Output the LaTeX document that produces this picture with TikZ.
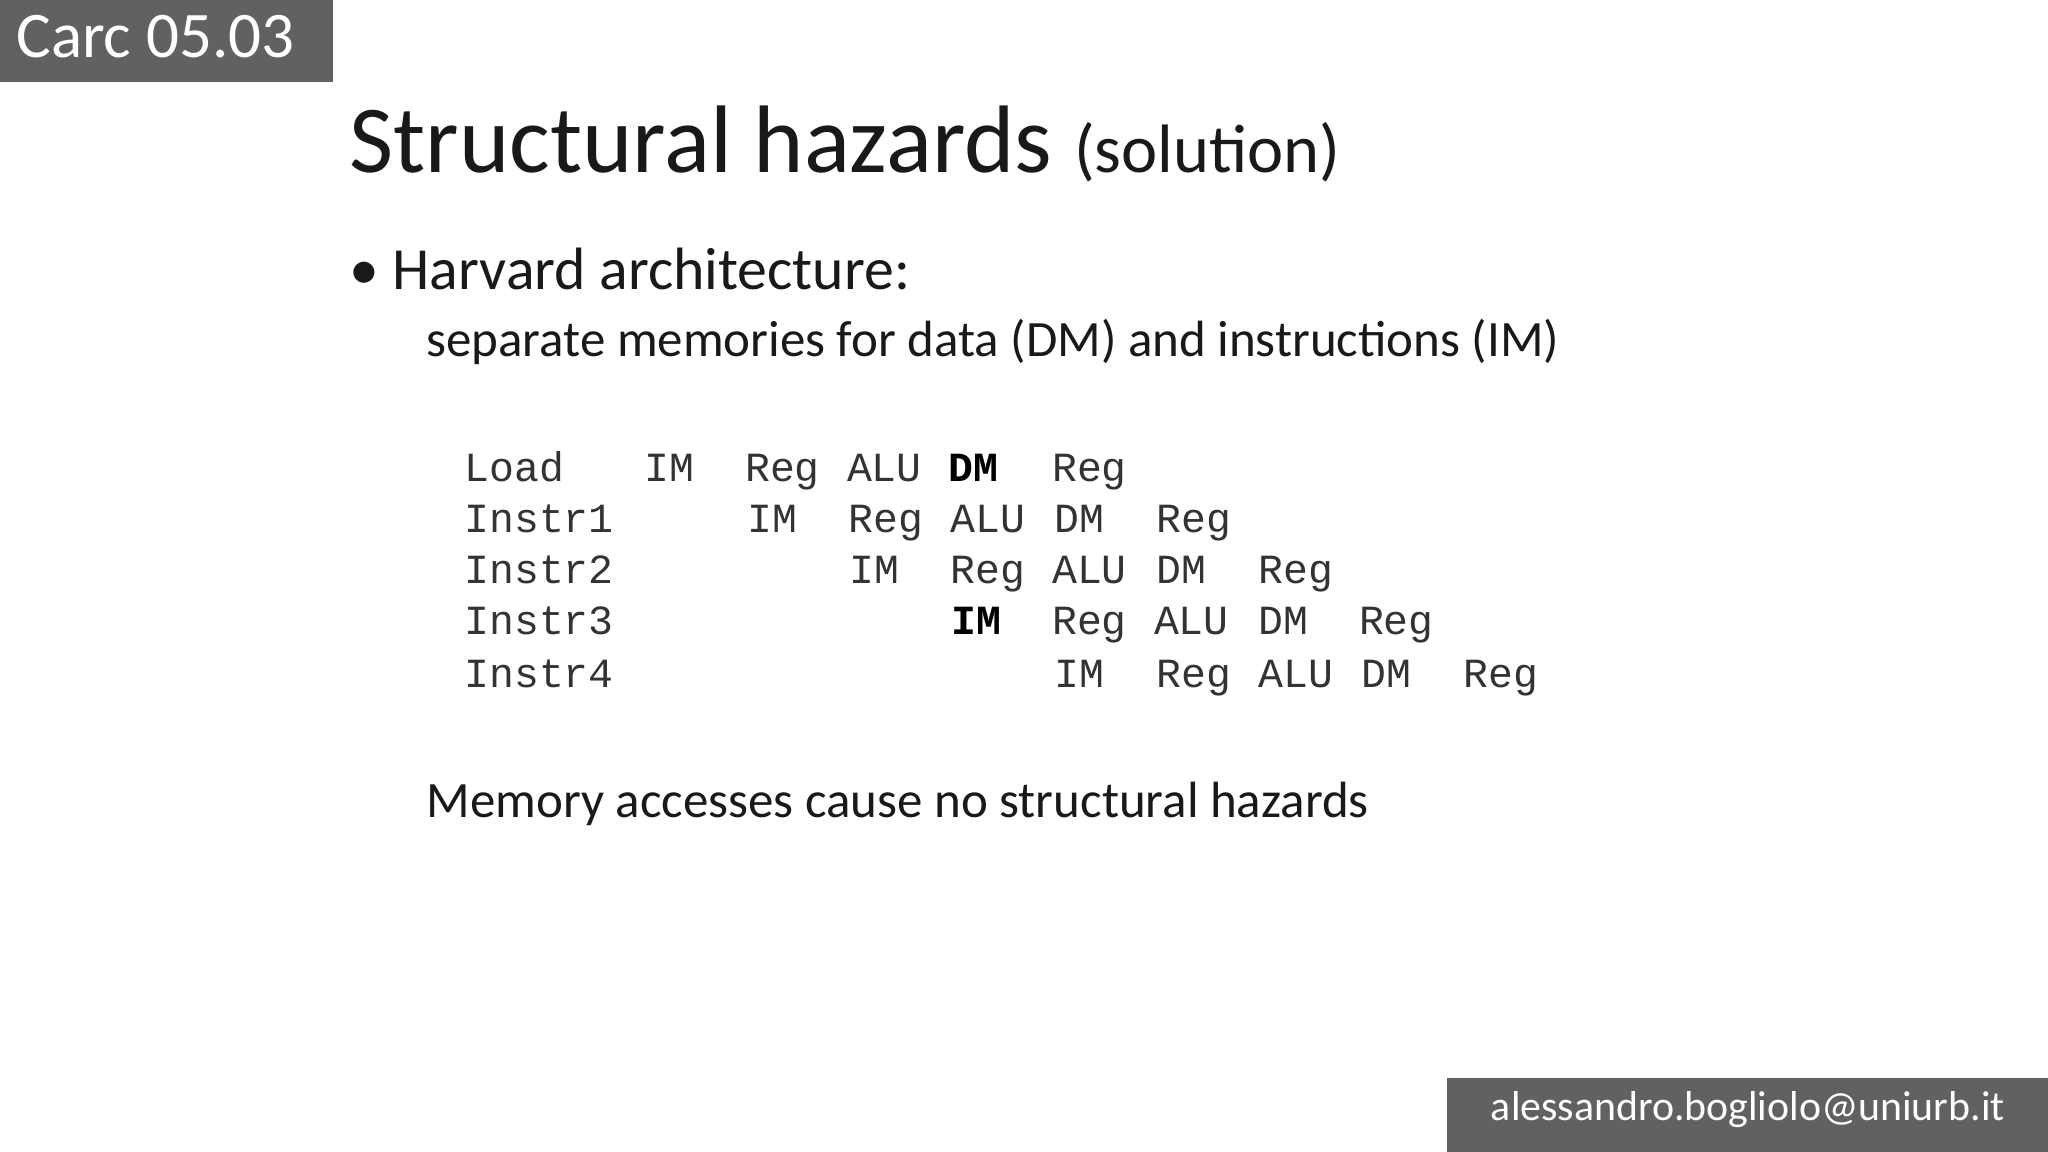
\documentclass[tikz,border=0pt]{standalone}
\usepackage{fontspec}
\setmainfont{Carlito}
\newfontfamily\monof{Liberation Mono}
\begin{document}
\begin{tikzpicture}[x=0.01306cm,y=-0.01306cm,
  t/.style={anchor=base west,inner sep=0pt,text=black!90},
  m/.style={anchor=base west,inner sep=0pt,text=black!80,font=\monof\fontsize{11.8}{12}\selectfont},
  mb/.style={m,font=\monof\bfseries\fontsize{11.8}{12}\selectfont,text=black}]
\useasboundingbox (0,0) rectangle (1568,882);
\fill[white] (0,0) rectangle (1568,882);
\fill[black!62] (0,0) rectangle (255,63);
\node[t,text=white,font=\fontsize{18.5}{19}\selectfont] (carc) at (12,44) {Carc 05.03};
\fill[black!62] (1108,825) rectangle (1568,882);
\node[t,text=white,font=\fontsize{11.9}{12}\selectfont] (mail) at (1141,858) {alessandro.bogliolo@uniurb.it};
\node[t,font=\fontsize{27.3}{28}\selectfont] (title) at (267,132) {Structural hazards {\fontsize{19.5}{21}\selectfont(solution)}};
\node[t,font=\fontsize{17}{18}\selectfont] (b1) at (267,222) {\textbullet\ Harvard architecture:};
\node[t,font=\fontsize{14.5}{15}\selectfont] (b2) at (326,273) {separate memories for data (DM) and instructions (IM)};
% table
\node[m] (r0) at (355,369) {Load};
\node[m] at (493,369) {IM}; \node[m] at (570,369) {Reg}; \node[m] at (648,369) {ALU};
\node[mb] at (726,369) {DM}; \node[m] at (805,369) {Reg};
\node[m] (r1) at (355,408) {Instr1};
\node[m] at (572,408) {IM}; \node[m] at (649,408) {Reg}; \node[m] at (727,408) {ALU};
\node[m] at (807,408) {DM}; \node[m] at (885,408) {Reg};
\node[m] (r2) at (355,447) {Instr2};
\node[m] at (650,447) {IM}; \node[m] at (727,447) {Reg}; \node[m] at (805,447) {ALU};
\node[m] at (885,447) {DM}; \node[m] at (963,447) {Reg};
\node[m] (r3) at (355,486) {Instr3};
\node[mb] at (728,486) {IM}; \node[m] at (805,486) {Reg}; \node[m] at (883,486) {ALU};
\node[m] at (963,486) {DM}; \node[m] at (1040,486) {Reg};
\node[m] (r4) at (355,526) {Instr4};
\node[m] at (807,526) {IM}; \node[m] at (885,526) {Reg}; \node[m] at (963,526) {ALU};
\node[m] at (1042,526) {DM}; \node[m] at (1120,526) {Reg};
\node[t,font=\fontsize{14.5}{15}\selectfont] (mem) at (326,626) {Memory accesses cause no structural hazards};
\end{tikzpicture}
\end{document}
